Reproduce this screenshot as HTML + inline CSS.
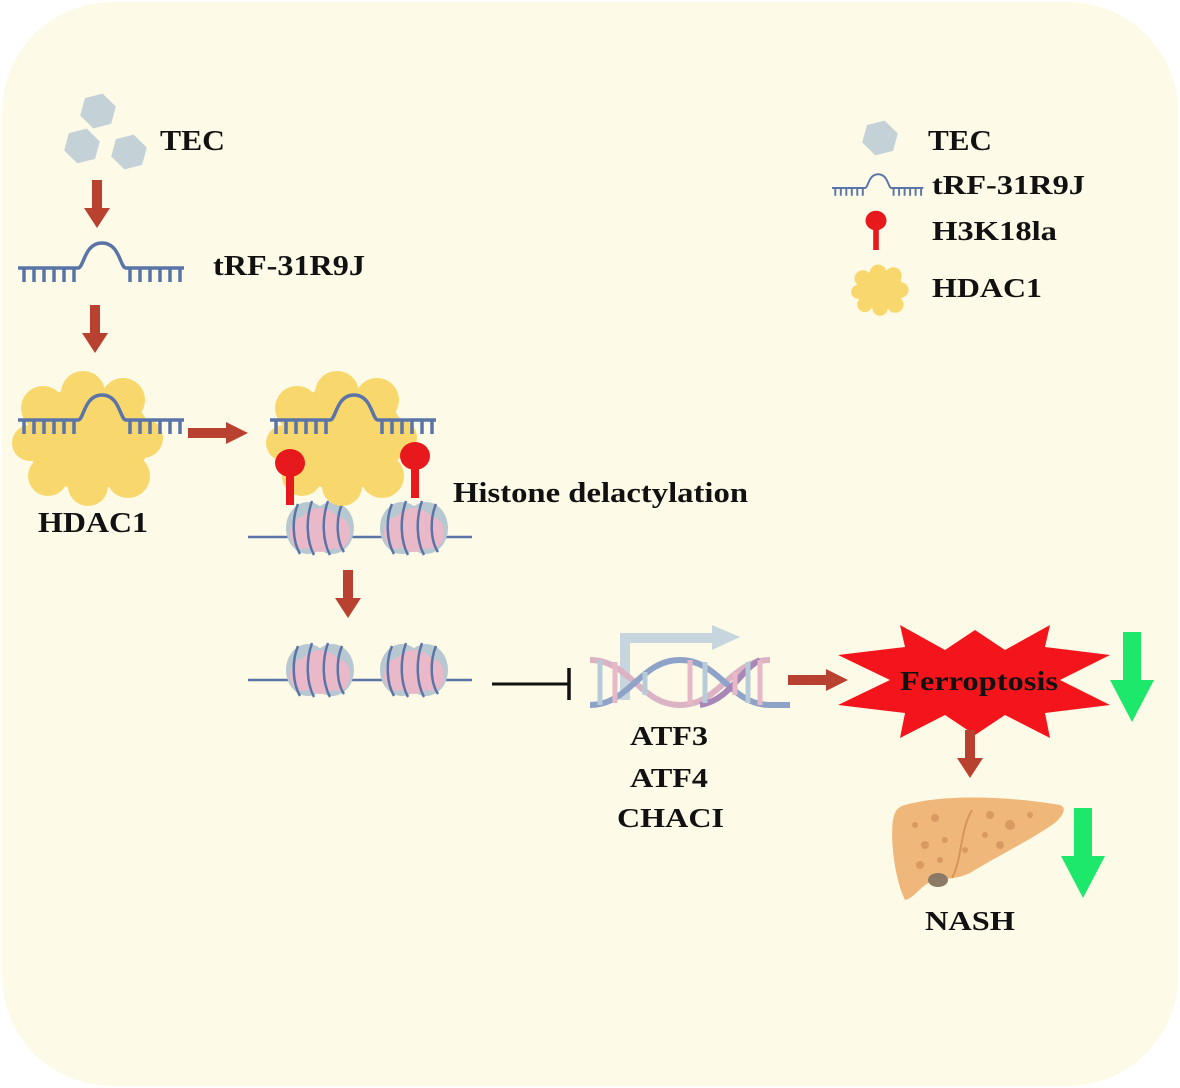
<!DOCTYPE html>
<html><head><meta charset="utf-8"><style>
html,body{margin:0;padding:0;background:#fff;}
svg{display:block}
text{font-family:"Liberation Serif",serif;font-weight:bold;fill:#111;}
</style></head><body>
<svg width="1180" height="1088" viewBox="0 0 1180 1088" xmlns="http://www.w3.org/2000/svg">
<defs>
<g id="hex"><polygon points="0,-18 16,-9 16,9 0,18 -16,9 -16,-9" fill="#c4d1d7" transform="rotate(15)"/></g>
<g id="trf" stroke="#5a74a8" stroke-width="3.5" fill="none">
 <path d="M0,0 H60 C66,0 66,-25 84,-25 C102,-25 102,0 108,0 H166"/>
 <path d="M6,0v14M16,0v14M26,0v14M36,0v14M46,0v14M56,0v14M112,0v14M122,0v14M132,0v14M142,0v14M152,0v14M162,0v14"/>
</g>
<g id="blob" fill="#f8d86c">
 <ellipse cx="0" cy="0" rx="62" ry="52"/>
 <circle cx="-45" cy="-30" r="22"/><circle cx="-5" cy="-45" r="22"/><circle cx="35" cy="-38" r="22"/>
 <circle cx="55" cy="0" r="20"/><circle cx="40" cy="38" r="22"/><circle cx="0" cy="48" r="20"/>
 <circle cx="-40" cy="38" r="20"/><circle cx="-58" cy="5" r="18"/>
</g>
<g id="nuc">
 <ellipse cx="-12" cy="0" rx="22" ry="26" fill="#b8c8d0"/>
 <ellipse cx="12" cy="0" rx="22" ry="26" fill="#b8c8d0"/>
 <ellipse cx="0" cy="2" rx="22" ry="22" fill="#e9b9c9"/>
 <ellipse cx="-18" cy="5" rx="12" ry="16" fill="#e9b9c9"/>
 <ellipse cx="18" cy="5" rx="12" ry="16" fill="#e9b9c9"/>
 <path d="M-22,-24 C-28,-10 -28,12 -20,26 M-8,-27 C-14,-10 -14,12 -6,27 M8,-27 C2,-10 2,12 10,27 M22,-24 C16,-10 16,12 24,24" stroke="#5a74a8" stroke-width="2.5" fill="none"/>
</g>
<g id="lolli"><rect x="-4" y="0" width="8" height="40" fill="#e8191c"/><ellipse cx="0" cy="-2" rx="15" ry="14" fill="#e8191c"/></g>
<g id="adown"><rect x="-5" y="0" width="10" height="30" fill="#b9412f"/><polygon points="-13,28 13,28 0,48" fill="#b9412f"/></g>
<g id="aright"><rect x="0" y="-5" width="40" height="10" fill="#b9412f"/><polygon points="38,-11 38,11 60,0" fill="#b9412f"/></g>
<g id="gdown"><rect x="-9" y="0" width="18" height="50" fill="#1de86b"/><polygon points="-22,48 22,48 0,90" fill="#1de86b"/></g>
</defs>
<rect x="0" y="0" width="1180" height="1088" fill="#fff"/>
<rect x="2" y="2" width="1176" height="1084" rx="110" fill="#fdfbe8"/>

<use href="#hex" x="98" y="111"/><use href="#hex" x="82" y="146"/><use href="#hex" x="129" y="152"/>
<text x="160" y="150" font-size="28" textLength="65" lengthAdjust="spacingAndGlyphs">TEC</text>
<use href="#adown" x="97" y="180"/>
<use href="#trf" x="18" y="268"/>
<text x="213" y="275" font-size="28" textLength="152" lengthAdjust="spacingAndGlyphs">tRF-31R9J</text>
<use href="#adown" x="95" y="305"/>

<use href="#blob" x="88" y="438"/>
<use href="#trf" x="18" y="420"/>
<text x="38" y="532" font-size="28" textLength="110" lengthAdjust="spacingAndGlyphs">HDAC1</text>
<use href="#aright" x="188" y="433"/>

<line x1="248" y1="537" x2="472" y2="537" stroke="#5a74a8" stroke-width="2.5"/>
<use href="#nuc" x="320" y="528"/><use href="#nuc" x="414" y="528"/>
<use href="#blob" x="342" y="438"/>
<use href="#trf" x="270" y="420"/>
<use href="#lolli" x="290" y="465"/><use href="#lolli" x="415" y="458"/>
<text x="453" y="502" font-size="28" textLength="295" lengthAdjust="spacingAndGlyphs">Histone delactylation</text>

<use href="#adown" x="348" y="570"/>
<line x1="248" y1="680" x2="472" y2="680" stroke="#5a74a8" stroke-width="2.5"/>
<use href="#nuc" x="320" y="670"/><use href="#nuc" x="414" y="670"/>

<line x1="492" y1="684" x2="568" y2="684" stroke="#111" stroke-width="3"/>
<line x1="569" y1="668" x2="569" y2="700" stroke="#111" stroke-width="3.5"/>

<path d="M625,700 V638 H715" stroke="#c7d6de" stroke-width="10" fill="none"/>
<polygon points="712,625 712,650 740,637" fill="#c7d6de"/>
<g stroke-width="6" fill="none">
 <path d="M590,660 C630,660 640,705 680,705 C720,705 730,660 770,660" stroke="#dcb3c4"/>
 <path d="M590,705 C630,705 640,660 680,660 C720,660 730,705 770,705 H790" stroke="#8fa2c8"/>
 <path d="M700,705 C730,700 740,670 760,660" stroke="#a887b8"/>
</g>
<g stroke-width="5">
 <line x1="600" y1="660" x2="600" y2="705" stroke="#b7ccd8"/><line x1="615" y1="662" x2="615" y2="703" stroke="#e7b9c8"/>
 <line x1="645" y1="672" x2="645" y2="695" stroke="#b7ccd8"/><line x1="690" y1="660" x2="690" y2="705" stroke="#e7b9c8"/>
 <line x1="705" y1="662" x2="705" y2="703" stroke="#b7ccd8"/><line x1="735" y1="672" x2="735" y2="695" stroke="#e7b9c8"/>
 <line x1="760" y1="660" x2="760" y2="705" stroke="#e7b9c8"/><line x1="748" y1="662" x2="748" y2="703" stroke="#b7ccd8"/>
</g>
<text x="630" y="745" font-size="27" textLength="78" lengthAdjust="spacingAndGlyphs">ATF3</text>
<text x="630" y="787" font-size="27" textLength="78" lengthAdjust="spacingAndGlyphs">ATF4</text>
<text x="617" y="827" font-size="27" textLength="107" lengthAdjust="spacingAndGlyphs">CHACI</text>

<use href="#aright" x="788" y="680"/>
<polygon points="838,655 905,647 900,625 945,650 975,630 1005,650 1050,625 1045,647 1110,655 1060,680 1110,705 1045,713 1050,738 1005,715 975,735 945,715 900,738 905,713 838,705 890,680" fill="#f3151b"/>
<text x="900" y="690" font-size="27" textLength="158" lengthAdjust="spacingAndGlyphs">Ferroptosis</text>
<use href="#gdown" x="1132" y="632"/>

<use href="#adown" x="970" y="730"/>
<path d="M905,805 C940,795 1000,795 1060,805 C1068,808 1062,818 1052,825 C1030,840 1000,855 975,870 C960,880 945,878 935,880 C920,885 915,898 905,900 C895,880 890,840 893,820 C895,810 898,807 905,805 Z" fill="#f0b77a"/>
<path d="M972,810 C960,830 962,860 952,878" stroke="#d8955a" stroke-width="2" fill="none"/>
<ellipse cx="938" cy="880" rx="10" ry="7" fill="#8a7a66"/>
<g fill="#d99a62">
 <circle cx="915" cy="825" r="3"/><circle cx="935" cy="818" r="4"/><circle cx="925" cy="845" r="4"/><circle cx="945" cy="840" r="3"/>
 <circle cx="920" cy="865" r="4"/><circle cx="940" cy="860" r="3"/><circle cx="990" cy="815" r="4"/><circle cx="1010" cy="825" r="5"/>
 <circle cx="985" cy="835" r="3"/><circle cx="1000" cy="845" r="4"/><circle cx="1030" cy="815" r="3"/><circle cx="965" cy="850" r="3"/>
</g>
<use href="#gdown" x="1083" y="808"/>
<text x="925" y="930" font-size="27" textLength="90" lengthAdjust="spacingAndGlyphs">NASH</text>

<use href="#hex" x="880" y="138"/>
<text x="928" y="150" font-size="28" textLength="64" lengthAdjust="spacingAndGlyphs">TEC</text>
<g transform="translate(832,188) scale(0.55)"><use href="#trf"/></g>
<text x="932" y="194" font-size="27" textLength="153" lengthAdjust="spacingAndGlyphs">tRF-31R9J</text>
<g transform="translate(876,222) scale(0.7)"><use href="#lolli"/></g>
<text x="932" y="240" font-size="27" textLength="125" lengthAdjust="spacingAndGlyphs">H3K18la</text>
<g transform="translate(880,290) scale(0.38)"><use href="#blob"/></g>
<text x="932" y="297" font-size="27" textLength="110" lengthAdjust="spacingAndGlyphs">HDAC1</text>
</svg>
</body></html>
